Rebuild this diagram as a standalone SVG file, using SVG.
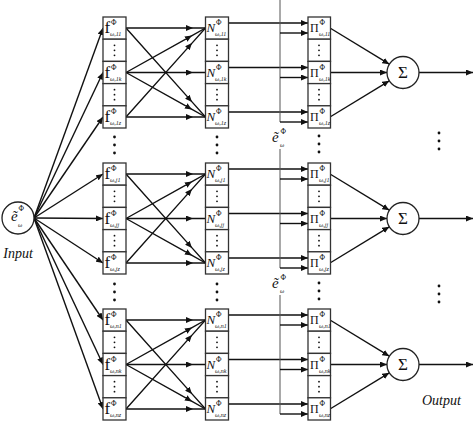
<svg xmlns="http://www.w3.org/2000/svg" width="474" height="422" viewBox="0 0 474 422">
<defs>
<marker id="ah" markerUnits="userSpaceOnUse" markerWidth="8" markerHeight="6" refX="7" refY="3" orient="auto"><path d="M0,0 L7,3 L0,6 z" fill="#111"/></marker>
<style>
.cell{fill:#fff;stroke:#333;stroke-width:1.3}
.ln{fill:none;stroke:#111;stroke-width:1.4}
.ln2{fill:none;stroke:#555;stroke-width:1}
.arr{marker-end:url(#ah)}
.mid{marker-mid:url(#ah)}
.t{font-family:"Liberation Serif","Times New Roman",serif;fill:#111}
.fm{font-size:17px}
.nm{font-size:13px;font-style:italic}
.pm{font-size:12px}
.sup{font-size:7.5px}
.sub{font-size:6px;font-style:italic}
.it{font-style:italic}
.dot{fill:#111}
.circ{fill:#fff;stroke:#222;stroke-width:1.3}
</style>
</defs>
<rect width="474" height="422" fill="#fff"/>

<g id="connectors">
<!-- input to f -->
<path class="ln arr" d="M34,218 L103,28"/>
<path class="ln arr" d="M34,218 L103,72.5"/>
<path class="ln arr" d="M34,218 L103,117"/>
<path class="ln arr" d="M34,218 L103,174"/>
<path class="ln arr" d="M34,218 L103,218.5"/>
<path class="ln arr" d="M34,218 L103,263"/>
<path class="ln arr" d="M34,218 L103,320"/>
<path class="ln arr" d="M34,218 L103,364.5"/>
<path class="ln arr" d="M34,218 L103,409"/>
<!-- f to N group 1 -->
<path class="ln mid" d="M126,28 L193,28 L205.5,28"/>
<path class="ln mid" d="M126,72.5 L193,72.5 L205.5,72.5"/>
<path class="ln mid" d="M126,117 L193,117 L205.5,117"/>
<path class="ln mid" d="M126,28 L192,101.9 L205.5,117"/>
<path class="ln mid" d="M126,72.5 L192,35.6 L205.5,28"/>
<path class="ln mid" d="M126,72.5 L192,109.4 L205.5,117"/>
<path class="ln mid" d="M126,117 L192,43.1 L205.5,28"/>
<!-- f to N group 2 -->
<path class="ln mid" d="M126,174 L193,174 L205.5,174"/>
<path class="ln mid" d="M126,218.5 L193,218.5 L205.5,218.5"/>
<path class="ln mid" d="M126,263 L193,263 L205.5,263"/>
<path class="ln mid" d="M126,174 L192,247.9 L205.5,263"/>
<path class="ln mid" d="M126,218.5 L192,181.6 L205.5,174"/>
<path class="ln mid" d="M126,218.5 L192,255.4 L205.5,263"/>
<path class="ln mid" d="M126,263 L192,189.1 L205.5,174"/>
<!-- f to N group 3 -->
<path class="ln mid" d="M126,320 L193,320 L205.5,320"/>
<path class="ln mid" d="M126,364.5 L193,364.5 L205.5,364.5"/>
<path class="ln mid" d="M126,409 L193,409 L205.5,409"/>
<path class="ln mid" d="M126,320 L192,393.9 L205.5,409"/>
<path class="ln mid" d="M126,364.5 L192,327.6 L205.5,320"/>
<path class="ln mid" d="M126,364.5 L192,401.4 L205.5,409"/>
<path class="ln mid" d="M126,409 L192,335.1 L205.5,320"/>
<!-- N to Pi -->
<path class="ln arr" d="M228,23 L308,23"/>
<path class="ln arr" d="M228,67.5 L308,67.5"/>
<path class="ln arr" d="M228,112 L308,112"/>
<path class="ln arr" d="M228,169 L308,169"/>
<path class="ln arr" d="M228,213.5 L308,213.5"/>
<path class="ln arr" d="M228,258 L308,258"/>
<path class="ln arr" d="M228,315 L308,315"/>
<path class="ln arr" d="M228,359.5 L308,359.5"/>
<path class="ln arr" d="M228,404 L308,404"/>
<!-- e-tilde vertical lines and branches -->
<path class="ln2" d="M280,0 L280,122"/>
<path class="ln2" d="M280,149 L280,268"/>
<path class="ln2" d="M280,295 L280,414"/>
<path class="ln arr" d="M280,33 L308,33"/>
<path class="ln arr" d="M280,77.5 L308,77.5"/>
<path class="ln arr" d="M280,122 L308,122"/>
<path class="ln arr" d="M280,179 L308,179"/>
<path class="ln arr" d="M280,223.5 L308,223.5"/>
<path class="ln arr" d="M280,268 L308,268"/>
<path class="ln arr" d="M280,325 L308,325"/>
<path class="ln arr" d="M280,369.5 L308,369.5"/>
<path class="ln arr" d="M280,414 L308,414"/>
<!-- Pi to Sigma -->
<path class="ln arr" d="M330,28 L389.3,64.2"/>
<path class="ln arr" d="M330,72.5 L387,72.5"/>
<path class="ln arr" d="M330,117 L389.3,80.8"/>
<path class="ln arr" d="M330,174 L389.3,210.2"/>
<path class="ln arr" d="M330,218.5 L387,218.5"/>
<path class="ln arr" d="M330,263 L389.3,226.8"/>
<path class="ln arr" d="M330,320 L389.3,356.2"/>
<path class="ln arr" d="M330,364.5 L387,364.5"/>
<path class="ln arr" d="M330,409 L389.3,372.8"/>
<!-- outputs -->
<path class="ln arr" d="M419,72.5 L473,72.5"/>
<path class="ln arr" d="M419,218.5 L473,218.5"/>
<path class="ln arr" d="M419,364.5 L473,364.5"/>
</g>

<g id="input">
<circle class="circ" cx="18" cy="218" r="16"/>
<text class="t it" x="11" y="221" font-size="15">ẽ</text>
<text class="t sup" x="18.5" y="211">Φ</text>
<text class="t sub" x="18" y="227" font-size="7">ω</text>
<text class="t it" x="18" y="258" font-size="14" text-anchor="middle">Input</text>
</g>

<!-- group 1 -->
<g id="f_w11"><rect class="cell" x="103" y="17" width="23" height="22.2"/><text class="t fm" x="104.5" y="33">f</text><text class="t sup" x="111" y="25">Φ</text><text class="t sub" x="110" y="36">ω,11</text></g>
<g id="f_dots1a"><rect class="cell" x="103" y="39.2" width="23" height="22.2"/><circle class="dot" cx="114.5" cy="45.3" r="0.9"/><circle class="dot" cx="114.5" cy="50.3" r="0.9"/><circle class="dot" cx="114.5" cy="55.3" r="0.9"/></g>
<g id="f_w1k"><rect class="cell" x="103" y="61.4" width="23" height="22.2"/><text class="t fm" x="104.5" y="77.5">f</text><text class="t sup" x="111" y="69.5">Φ</text><text class="t sub" x="110" y="80.5">ω,1k</text></g>
<g id="f_dots1b"><rect class="cell" x="103" y="83.6" width="23" height="22.2"/><circle class="dot" cx="114.5" cy="89.7" r="0.9"/><circle class="dot" cx="114.5" cy="94.7" r="0.9"/><circle class="dot" cx="114.5" cy="99.7" r="0.9"/></g>
<g id="f_w1z"><rect class="cell" x="103" y="105.8" width="23" height="22.2"/><text class="t fm" x="104.5" y="122">f</text><text class="t sup" x="111" y="114">Φ</text><text class="t sub" x="110" y="125">ω,1z</text></g>

<g id="N_w11"><rect class="cell" x="205.5" y="17" width="23" height="22.2"/><text class="t nm" x="206.5" y="32">N</text><text class="t sup" x="216" y="25">Φ</text><text class="t sub" x="215" y="36">ω,11</text></g>
<g id="N_dots1a"><rect class="cell" x="205.5" y="39.2" width="23" height="22.2"/><circle class="dot" cx="217" cy="45.3" r="0.9"/><circle class="dot" cx="217" cy="50.3" r="0.9"/><circle class="dot" cx="217" cy="55.3" r="0.9"/></g>
<g id="N_w1k"><rect class="cell" x="205.5" y="61.4" width="23" height="22.2"/><text class="t nm" x="206.5" y="76.5">N</text><text class="t sup" x="216" y="69.5">Φ</text><text class="t sub" x="215" y="80.5">ω,1k</text></g>
<g id="N_dots1b"><rect class="cell" x="205.5" y="83.6" width="23" height="22.2"/><circle class="dot" cx="217" cy="89.7" r="0.9"/><circle class="dot" cx="217" cy="94.7" r="0.9"/><circle class="dot" cx="217" cy="99.7" r="0.9"/></g>
<g id="N_w1z"><rect class="cell" x="205.5" y="105.8" width="23" height="22.2"/><text class="t nm" x="206.5" y="121">N</text><text class="t sup" x="216" y="114">Φ</text><text class="t sub" x="215" y="125">ω,1z</text></g>

<g id="P_w11"><rect class="cell" x="308" y="17" width="22.5" height="22.2"/><text class="t pm" x="310" y="32">Π</text><text class="t sup" x="319.5" y="25">Φ</text><text class="t sub" x="319" y="36">ω,11</text></g>
<g id="P_dots1a"><rect class="cell" x="308" y="39.2" width="22.5" height="22.2"/><circle class="dot" cx="319" cy="45.3" r="0.9"/><circle class="dot" cx="319" cy="50.3" r="0.9"/><circle class="dot" cx="319" cy="55.3" r="0.9"/></g>
<g id="P_w1k"><rect class="cell" x="308" y="61.4" width="22.5" height="22.2"/><text class="t pm" x="310" y="76.5">Π</text><text class="t sup" x="319.5" y="69.5">Φ</text><text class="t sub" x="319" y="80.5">ω,1k</text></g>
<g id="P_dots1b"><rect class="cell" x="308" y="83.6" width="22.5" height="22.2"/><circle class="dot" cx="319" cy="89.7" r="0.9"/><circle class="dot" cx="319" cy="94.7" r="0.9"/><circle class="dot" cx="319" cy="99.7" r="0.9"/></g>
<g id="P_w1z"><rect class="cell" x="308" y="105.8" width="22.5" height="22.2"/><text class="t pm" x="310" y="121">Π</text><text class="t sup" x="319.5" y="114">Φ</text><text class="t sub" x="319" y="125">ω,1z</text></g>

<g id="S_1"><circle class="circ" cx="403" cy="72.5" r="16"/><text class="t" x="403" y="78" font-size="17" text-anchor="middle">Σ</text></g>

<!-- group 2 -->
<g id="f_wj1"><rect class="cell" x="103" y="163" width="23" height="22.2"/><text class="t fm" x="104.5" y="179">f</text><text class="t sup" x="111" y="171">Φ</text><text class="t sub" x="110" y="182">ω,j1</text></g>
<g id="f_dots2a"><rect class="cell" x="103" y="185.2" width="23" height="22.2"/><circle class="dot" cx="114.5" cy="191.3" r="0.9"/><circle class="dot" cx="114.5" cy="196.3" r="0.9"/><circle class="dot" cx="114.5" cy="201.3" r="0.9"/></g>
<g id="f_wjj"><rect class="cell" x="103" y="207.4" width="23" height="22.2"/><text class="t fm" x="104.5" y="223.5">f</text><text class="t sup" x="111" y="215.5">Φ</text><text class="t sub" x="110" y="226.5">ω,jj</text></g>
<g id="f_dots2b"><rect class="cell" x="103" y="229.6" width="23" height="22.2"/><circle class="dot" cx="114.5" cy="235.7" r="0.9"/><circle class="dot" cx="114.5" cy="240.7" r="0.9"/><circle class="dot" cx="114.5" cy="245.7" r="0.9"/></g>
<g id="f_wjz"><rect class="cell" x="103" y="251.8" width="23" height="22.2"/><text class="t fm" x="104.5" y="268">f</text><text class="t sup" x="111" y="260">Φ</text><text class="t sub" x="110" y="271">ω,jz</text></g>

<g id="N_wj1"><rect class="cell" x="205.5" y="163" width="23" height="22.2"/><text class="t nm" x="206.5" y="178">N</text><text class="t sup" x="216" y="171">Φ</text><text class="t sub" x="215" y="182">ω,j1</text></g>
<g id="N_dots2a"><rect class="cell" x="205.5" y="185.2" width="23" height="22.2"/><circle class="dot" cx="217" cy="191.3" r="0.9"/><circle class="dot" cx="217" cy="196.3" r="0.9"/><circle class="dot" cx="217" cy="201.3" r="0.9"/></g>
<g id="N_wjj"><rect class="cell" x="205.5" y="207.4" width="23" height="22.2"/><text class="t nm" x="206.5" y="222.5">N</text><text class="t sup" x="216" y="215.5">Φ</text><text class="t sub" x="215" y="226.5">ω,jj</text></g>
<g id="N_dots2b"><rect class="cell" x="205.5" y="229.6" width="23" height="22.2"/><circle class="dot" cx="217" cy="235.7" r="0.9"/><circle class="dot" cx="217" cy="240.7" r="0.9"/><circle class="dot" cx="217" cy="245.7" r="0.9"/></g>
<g id="N_wjz"><rect class="cell" x="205.5" y="251.8" width="23" height="22.2"/><text class="t nm" x="206.5" y="267">N</text><text class="t sup" x="216" y="260">Φ</text><text class="t sub" x="215" y="271">ω,jz</text></g>

<g id="P_wj1"><rect class="cell" x="308" y="163" width="22.5" height="22.2"/><text class="t pm" x="310" y="178">Π</text><text class="t sup" x="319.5" y="171">Φ</text><text class="t sub" x="319" y="182">ω,j1</text></g>
<g id="P_dots2a"><rect class="cell" x="308" y="185.2" width="22.5" height="22.2"/><circle class="dot" cx="319" cy="191.3" r="0.9"/><circle class="dot" cx="319" cy="196.3" r="0.9"/><circle class="dot" cx="319" cy="201.3" r="0.9"/></g>
<g id="P_wjj"><rect class="cell" x="308" y="207.4" width="22.5" height="22.2"/><text class="t pm" x="310" y="222.5">Π</text><text class="t sup" x="319.5" y="215.5">Φ</text><text class="t sub" x="319" y="226.5">ω,jj</text></g>
<g id="P_dots2b"><rect class="cell" x="308" y="229.6" width="22.5" height="22.2"/><circle class="dot" cx="319" cy="235.7" r="0.9"/><circle class="dot" cx="319" cy="240.7" r="0.9"/><circle class="dot" cx="319" cy="245.7" r="0.9"/></g>
<g id="P_wjz"><rect class="cell" x="308" y="251.8" width="22.5" height="22.2"/><text class="t pm" x="310" y="267">Π</text><text class="t sup" x="319.5" y="260">Φ</text><text class="t sub" x="319" y="271">ω,jz</text></g>

<g id="S_2"><circle class="circ" cx="403" cy="218.5" r="16"/><text class="t" x="403" y="224" font-size="17" text-anchor="middle">Σ</text></g>

<!-- group 3 -->
<g id="f_wn1"><rect class="cell" x="103" y="309" width="23" height="22.2"/><text class="t fm" x="104.5" y="325">f</text><text class="t sup" x="111" y="317">Φ</text><text class="t sub" x="110" y="328">ω,n1</text></g>
<g id="f_dots3a"><rect class="cell" x="103" y="331.2" width="23" height="22.2"/><circle class="dot" cx="114.5" cy="337.3" r="0.9"/><circle class="dot" cx="114.5" cy="342.3" r="0.9"/><circle class="dot" cx="114.5" cy="347.3" r="0.9"/></g>
<g id="f_wnk"><rect class="cell" x="103" y="353.4" width="23" height="22.2"/><text class="t fm" x="104.5" y="369.5">f</text><text class="t sup" x="111" y="361.5">Φ</text><text class="t sub" x="110" y="372.5">ω,nk</text></g>
<g id="f_dots3b"><rect class="cell" x="103" y="375.6" width="23" height="22.2"/><circle class="dot" cx="114.5" cy="381.7" r="0.9"/><circle class="dot" cx="114.5" cy="386.7" r="0.9"/><circle class="dot" cx="114.5" cy="391.7" r="0.9"/></g>
<g id="f_wnz"><rect class="cell" x="103" y="397.8" width="23" height="22.2"/><text class="t fm" x="104.5" y="414">f</text><text class="t sup" x="111" y="406">Φ</text><text class="t sub" x="110" y="417">ω,nz</text></g>

<g id="N_wn1"><rect class="cell" x="205.5" y="309" width="23" height="22.2"/><text class="t nm" x="206.5" y="324">N</text><text class="t sup" x="216" y="317">Φ</text><text class="t sub" x="215" y="328">ω,n1</text></g>
<g id="N_dots3a"><rect class="cell" x="205.5" y="331.2" width="23" height="22.2"/><circle class="dot" cx="217" cy="337.3" r="0.9"/><circle class="dot" cx="217" cy="342.3" r="0.9"/><circle class="dot" cx="217" cy="347.3" r="0.9"/></g>
<g id="N_wnk"><rect class="cell" x="205.5" y="353.4" width="23" height="22.2"/><text class="t nm" x="206.5" y="368.5">N</text><text class="t sup" x="216" y="361.5">Φ</text><text class="t sub" x="215" y="372.5">ω,nk</text></g>
<g id="N_dots3b"><rect class="cell" x="205.5" y="375.6" width="23" height="22.2"/><circle class="dot" cx="217" cy="381.7" r="0.9"/><circle class="dot" cx="217" cy="386.7" r="0.9"/><circle class="dot" cx="217" cy="391.7" r="0.9"/></g>
<g id="N_wnz"><rect class="cell" x="205.5" y="397.8" width="23" height="22.2"/><text class="t nm" x="206.5" y="413">N</text><text class="t sup" x="216" y="406">Φ</text><text class="t sub" x="215" y="417">ω,nz</text></g>

<g id="P_wn1"><rect class="cell" x="308" y="309" width="22.5" height="22.2"/><text class="t pm" x="310" y="324">Π</text><text class="t sup" x="319.5" y="317">Φ</text><text class="t sub" x="319" y="328">ω,n1</text></g>
<g id="P_dots3a"><rect class="cell" x="308" y="331.2" width="22.5" height="22.2"/><circle class="dot" cx="319" cy="337.3" r="0.9"/><circle class="dot" cx="319" cy="342.3" r="0.9"/><circle class="dot" cx="319" cy="347.3" r="0.9"/></g>
<g id="P_wnk"><rect class="cell" x="308" y="353.4" width="22.5" height="22.2"/><text class="t pm" x="310" y="368.5">Π</text><text class="t sup" x="319.5" y="361.5">Φ</text><text class="t sub" x="319" y="372.5">ω,nk</text></g>
<g id="P_dots3b"><rect class="cell" x="308" y="375.6" width="22.5" height="22.2"/><circle class="dot" cx="319" cy="381.7" r="0.9"/><circle class="dot" cx="319" cy="386.7" r="0.9"/><circle class="dot" cx="319" cy="391.7" r="0.9"/></g>
<g id="P_wnz"><rect class="cell" x="308" y="397.8" width="22.5" height="22.2"/><text class="t pm" x="310" y="413">Π</text><text class="t sup" x="319.5" y="406">Φ</text><text class="t sub" x="319" y="417">ω,nz</text></g>

<g id="S_3"><circle class="circ" cx="403" cy="364.5" r="16"/><text class="t" x="403" y="370" font-size="17" text-anchor="middle">Σ</text></g>

<g id="e_labels">
<text class="t it" x="272" y="142" font-size="15">ẽ</text><text class="t sup" x="280.5" y="134">Φ</text><text class="t sub" x="280" y="147">ω</text>
<text class="t it" x="272" y="288" font-size="15">ẽ</text><text class="t sup" x="280.5" y="280">Φ</text><text class="t sub" x="280" y="293">ω</text>
</g>

<g id="ellipses">
<circle class="dot" cx="114.5" cy="137" r="1.4"/><circle class="dot" cx="114.5" cy="145" r="1.4"/><circle class="dot" cx="114.5" cy="153" r="1.4"/>
<circle class="dot" cx="217" cy="137" r="1.4"/><circle class="dot" cx="217" cy="145" r="1.4"/><circle class="dot" cx="217" cy="153" r="1.4"/>
<circle class="dot" cx="319" cy="136" r="1.4"/><circle class="dot" cx="319" cy="144" r="1.4"/><circle class="dot" cx="319" cy="152" r="1.4"/>
<circle class="dot" cx="439" cy="133" r="1.4"/><circle class="dot" cx="439" cy="141" r="1.4"/><circle class="dot" cx="439" cy="149" r="1.4"/>
<circle class="dot" cx="114.5" cy="284" r="1.4"/><circle class="dot" cx="114.5" cy="292" r="1.4"/><circle class="dot" cx="114.5" cy="300" r="1.4"/>
<circle class="dot" cx="217" cy="284" r="1.4"/><circle class="dot" cx="217" cy="292" r="1.4"/><circle class="dot" cx="217" cy="300" r="1.4"/>
<circle class="dot" cx="319" cy="283" r="1.4"/><circle class="dot" cx="319" cy="291" r="1.4"/><circle class="dot" cx="319" cy="299" r="1.4"/>
<circle class="dot" cx="439" cy="286" r="1.4"/><circle class="dot" cx="439" cy="294" r="1.4"/><circle class="dot" cx="439" cy="302" r="1.4"/>
</g>

<text class="t it" x="422" y="405" font-size="14">Output</text>
</svg>
